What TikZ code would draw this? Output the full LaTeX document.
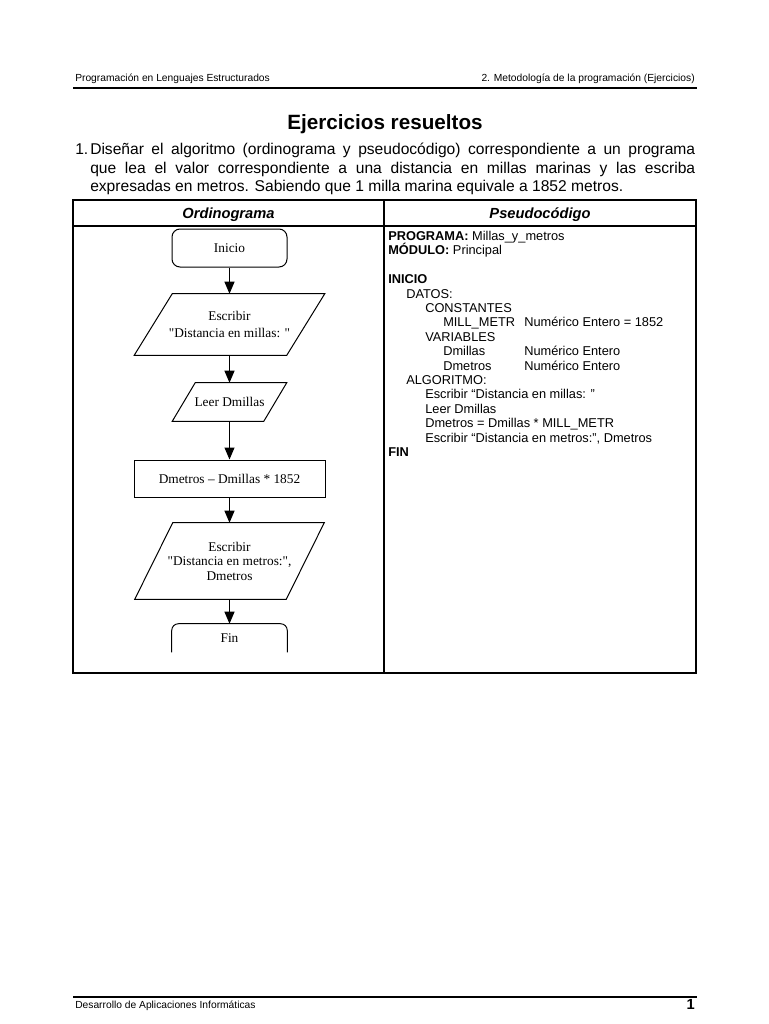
\documentclass[tikz,border=0pt]{standalone}
\usepackage{fontspec}
\setmainfont{Liberation Sans}
\newfontfamily\serifff{Liberation Serif}
\usetikzlibrary{arrows.meta}
\begin{document}
\begin{tikzpicture}[x=0.75pt,y=-0.75pt,
  flow/.style={draw=none,font=\serifff\fontsize{10}{12.75}\selectfont,align=center,inner sep=0pt},
  arr/.style={line width=0.75pt,-{Triangle[length=9pt,width=7.5pt]}},
  shp/.style={line width=0.75pt},
  code/.style={anchor=base west,font=\fontsize{9.6}{11}\selectfont,inner sep=0pt},
  small/.style={inner sep=0pt,font=\fontsize{7.7}{9}\selectfont},
  para/.style={anchor=base west,inner sep=0pt,font=\fontsize{11.7}{13}\selectfont},
  thead/.style={inner sep=0pt,anchor=base,font=\fontsize{11}{13}\selectfont\bfseries\itshape},
]
\useasboundingbox (0,0) rectangle (768,1024);
% header
\node[small,anchor=base west] (hl) at (75,81) {Programación en Lenguajes Estructurados};
\node[small,anchor=base east] (hr) at (695,81) {2. Metodología de la programación (Ejercicios)};
\draw[line width=1.1pt] (73,88) -- (697,88);
% title
\node[inner sep=0pt,anchor=base,font=\fontsize{15.5}{18}\selectfont\bfseries] (title) at (385,129) {Ejercicios resueltos};
% paragraph
\node[para] (l1) at (75,154) {\makebox[11.25pt][l]{1.}\makebox[453.75pt][s]{Diseñar el algoritmo (ordinograma y pseudocódigo) correspondiente a un programa}};
\node[para] (l2) at (90,173) {\makebox[453.75pt][s]{que lea el valor correspondiente a una distancia en millas marinas y las escriba}};
\node[para] (l3) at (90,191) {expresadas en metros. Sabiendo que 1 milla marina equivale a 1852 metros.};
% table
\draw[line width=1pt] (73,200) rectangle (696,673);
\draw[line width=1pt] (73,226) -- (696,226);
\draw[line width=1pt] (384,200) -- (384,673);
\node[thead] (h1) at (228.5,218) {Ordinograma};
\node[thead] (h2) at (540,218) {Pseudocódigo};
% flowchart
\node[flow,draw,shp,rounded corners=6pt,minimum width=86.25pt,minimum height=28.5pt] (inicio) at (229.5,248) {Inicio};
\node[flow,minimum width=114pt,minimum height=45.75pt] (p1) at (229.5,324.5) {Escribir\\"Distancia en millas: "};
\draw[shp] ([xshift=14.25pt]p1.north west) -- ([xshift=14.25pt]p1.north east) -- ([xshift=-14.25pt]p1.south east) -- ([xshift=-14.25pt]p1.south west) -- cycle;
\node[flow,minimum width=68.25pt,minimum height=28.5pt] (leer) at (229.5,402) {Leer Dmillas};
\draw[shp] ([xshift=8.6pt]leer.north west) -- ([xshift=8.6pt]leer.north east) -- ([xshift=-8.6pt]leer.south east) -- ([xshift=-8.6pt]leer.south west) -- cycle;
\node[flow,draw,shp,minimum width=143.25pt,minimum height=27.75pt] (calc) at (229.5,478.5) {Dmetros \textendash{} Dmillas * 1852};
\node[flow,font=\serifff\fontsize{10}{10.9}\selectfont,minimum width=113.25pt,minimum height=57pt] (p2) at (229.5,561) {Escribir\\"Distancia en metros:",\\Dmetros};
\draw[shp] ([xshift=14.25pt]p2.north west) -- ([xshift=14.25pt]p2.north east) -- ([xshift=-14.25pt]p2.south east) -- ([xshift=-14.25pt]p2.south west) -- cycle;
\node[flow,minimum width=86.25pt,minimum height=21pt] (fin) at (229.5,638) {Fin};
\draw[shp,rounded corners=5pt] (fin.south west) -- (fin.north west) -- (fin.north east) -- (fin.south east);
\draw[arr] (inicio.south) -- (p1.north);
\draw[arr] (p1.south) -- (leer.north);
\draw[arr] (leer.south) -- (calc.north);
\draw[arr] (calc.south) -- (p2.north);
\draw[arr] (p2.south) -- (fin.north);
% pseudocode
\node[code] (c0) at (388,240.5) {\textbf{PROGRAMA:} Millas\_y\_metros};
\node[code] (c1) at (388,254.9) {\textbf{MÓDULO:} Principal};
\node[code] (c3) at (388,283.7) {\textbf{INICIO}};
\node[code] (c4) at (406,298.1) {DATOS:};
\node[code] (c5) at (425,312.5) {CONSTANTES};
\node[code] (c6) at (443,326.9) {MILL\_METR};
\node[code] (c6b) at (524,326.9) {Numérico Entero = 1852};
\node[code] (c7) at (425,341.3) {VARIABLES};
\node[code] (c8) at (443,355.7) {Dmillas};
\node[code] (c8b) at (524,355.7) {Numérico Entero};
\node[code] (c9) at (443,370.1) {Dmetros};
\node[code] (c9b) at (524,370.1) {Numérico Entero};
\node[code] (c10) at (406,384.5) {ALGORITMO:};
\node[code] (c11) at (425,398.9) {Escribir “Distancia en millas: ”};
\node[code] (c12) at (425,413.3) {Leer Dmillas};
\node[code] (c13) at (425,427.7) {Dmetros = Dmillas * MILL\_METR};
\node[code] (c14) at (425,442.1) {Escribir “Distancia en metros:”, Dmetros};
\node[code] (c15) at (388,456.5) {\textbf{FIN}};
% footer
\draw[line width=1.1pt] (73,997) -- (697,997);
\node[small,anchor=base west] (fl) at (75,1008) {Desarrollo de Aplicaciones Informáticas};
\node[inner sep=0pt,anchor=base east,font=\fontsize{11}{13}\selectfont\bfseries] (fr) at (695,1009) {1};
\end{tikzpicture}
\end{document}
